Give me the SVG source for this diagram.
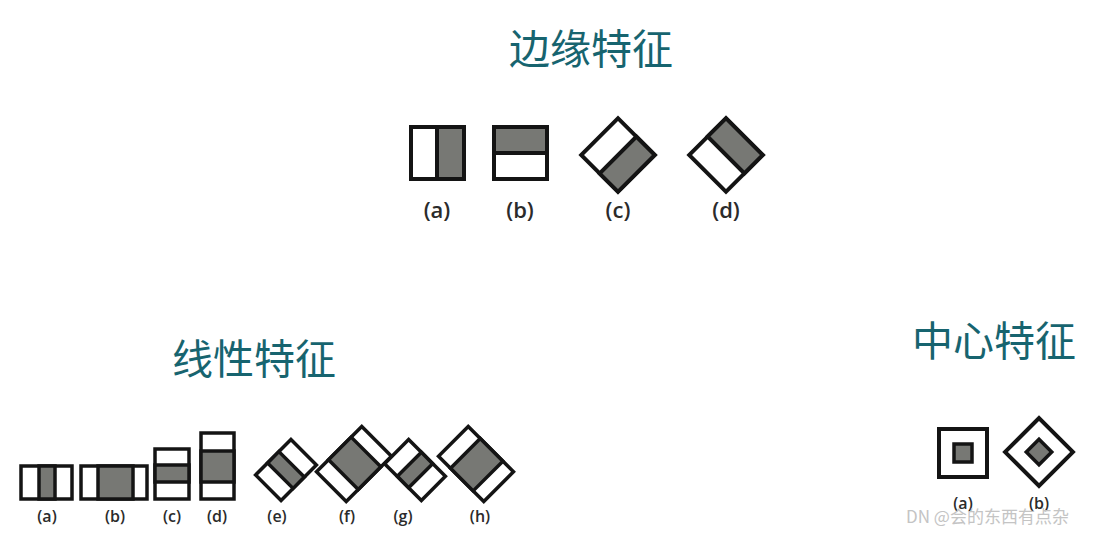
<svg xmlns="http://www.w3.org/2000/svg" width="1104" height="537" viewBox="0 0 1104 537">
<style>
.t{font-family:"Noto Sans CJK SC","Noto Sans",sans-serif;fill:#17646f;font-size:41px;text-anchor:middle}
.l{font-family:"Open Sans","Noto Sans",sans-serif;fill:#2b2b2b;text-anchor:middle;font-weight:600}
.w{fill:#fff;stroke:#141414;stroke-width:4}
.g{fill:#777874;stroke:#141414;stroke-width:4}
.s{fill:#fff;stroke:#141414;stroke-width:3.5}
.sg{fill:#777874;stroke:#141414;stroke-width:3.5}
</style>
<rect width="1104" height="537" fill="#fff"/>
<text class="t" x="591" y="64">边缘特征</text>
<text class="t" x="254" y="374">线性特征</text>
<text class="t" x="994" y="356">中心特征</text>
<g id="edge-a"><rect class="w" x="411" y="127" width="53" height="52"/><rect class="g" x="437" y="127" width="27" height="52"/></g>
<g id="edge-b"><rect class="w" x="494" y="127" width="53" height="52"/><rect class="g" x="494" y="127" width="53" height="26"/></g>
<g id="edge-c" transform="translate(618,155) rotate(45)"><rect class="w" x="-26" y="-26" width="52" height="52"/><rect class="g" x="0" y="-26" width="26" height="52"/></g>
<g id="edge-d" transform="translate(726,155) rotate(45)"><rect class="w" x="-26" y="-26" width="52" height="52"/><rect class="g" x="-26" y="-26" width="52" height="26"/></g>
<g class="l" font-size="22">
<text x="437" y="218">(a)</text><text x="520" y="218">(b)</text><text x="618" y="218">(c)</text><text x="726" y="218">(d)</text>
</g>
<g id="line-a"><rect class="s" x="21" y="466" width="51" height="33"/><rect class="sg" x="39" y="466" width="16" height="33"/></g>
<g id="line-b"><rect class="s" x="81" y="466" width="66" height="33"/><rect class="sg" x="98" y="466" width="35" height="33"/></g>
<g id="line-c"><rect class="s" x="155" y="449" width="34" height="50"/><rect class="sg" x="155" y="465" width="34" height="17"/></g>
<g id="line-d"><rect class="s" x="201" y="433" width="33" height="66"/><rect class="sg" x="201" y="451" width="33" height="31"/></g>
<g id="line-e" transform="translate(286,470) rotate(-45)"><rect class="s" x="-25" y="-18" width="50" height="36"/><rect class="sg" x="-8" y="-18" width="16" height="36"/></g>
<g id="line-f" transform="translate(354,464) rotate(-45)"><rect class="s" x="-32" y="-21" width="64" height="42"/><rect class="sg" x="-15" y="-21" width="32" height="42"/></g>
<g id="line-g" transform="translate(415,470) rotate(45)"><rect class="s" x="-26" y="-17" width="52" height="34"/><rect class="sg" x="-8" y="-17" width="16" height="34"/></g>
<g id="line-h" transform="translate(476,464) rotate(45)"><rect class="s" x="-32" y="-21" width="64" height="42"/><rect class="sg" x="-15" y="-21" width="32" height="42"/></g>
<g class="l" font-size="16">
<text x="47" y="522">(a)</text><text x="115" y="522">(b)</text><text x="172" y="522">(c)</text><text x="217" y="522">(d)</text>
<text x="277" y="522">(e)</text><text x="347" y="522">(f)</text><text x="403" y="522">(g)</text><text x="480" y="522">(h)</text>
</g>
<g id="center-a"><rect class="w" x="939" y="429" width="48" height="48"/><rect class="sg" x="954" y="444" width="18" height="18"/></g>
<g id="center-b" transform="translate(1039,452) rotate(45)"><rect class="w" x="-24" y="-24" width="48" height="48"/><rect class="sg" x="-9" y="-9" width="18" height="18"/></g>
<g class="l" font-size="16"><text x="963" y="509">(a)</text><text x="1039" y="509">(b)</text></g>
<text x="906" y="523" font-family="Noto Sans CJK SC,sans-serif" font-size="17" fill="#c4c4c4">DN @会的东西有点杂</text>
</svg>
